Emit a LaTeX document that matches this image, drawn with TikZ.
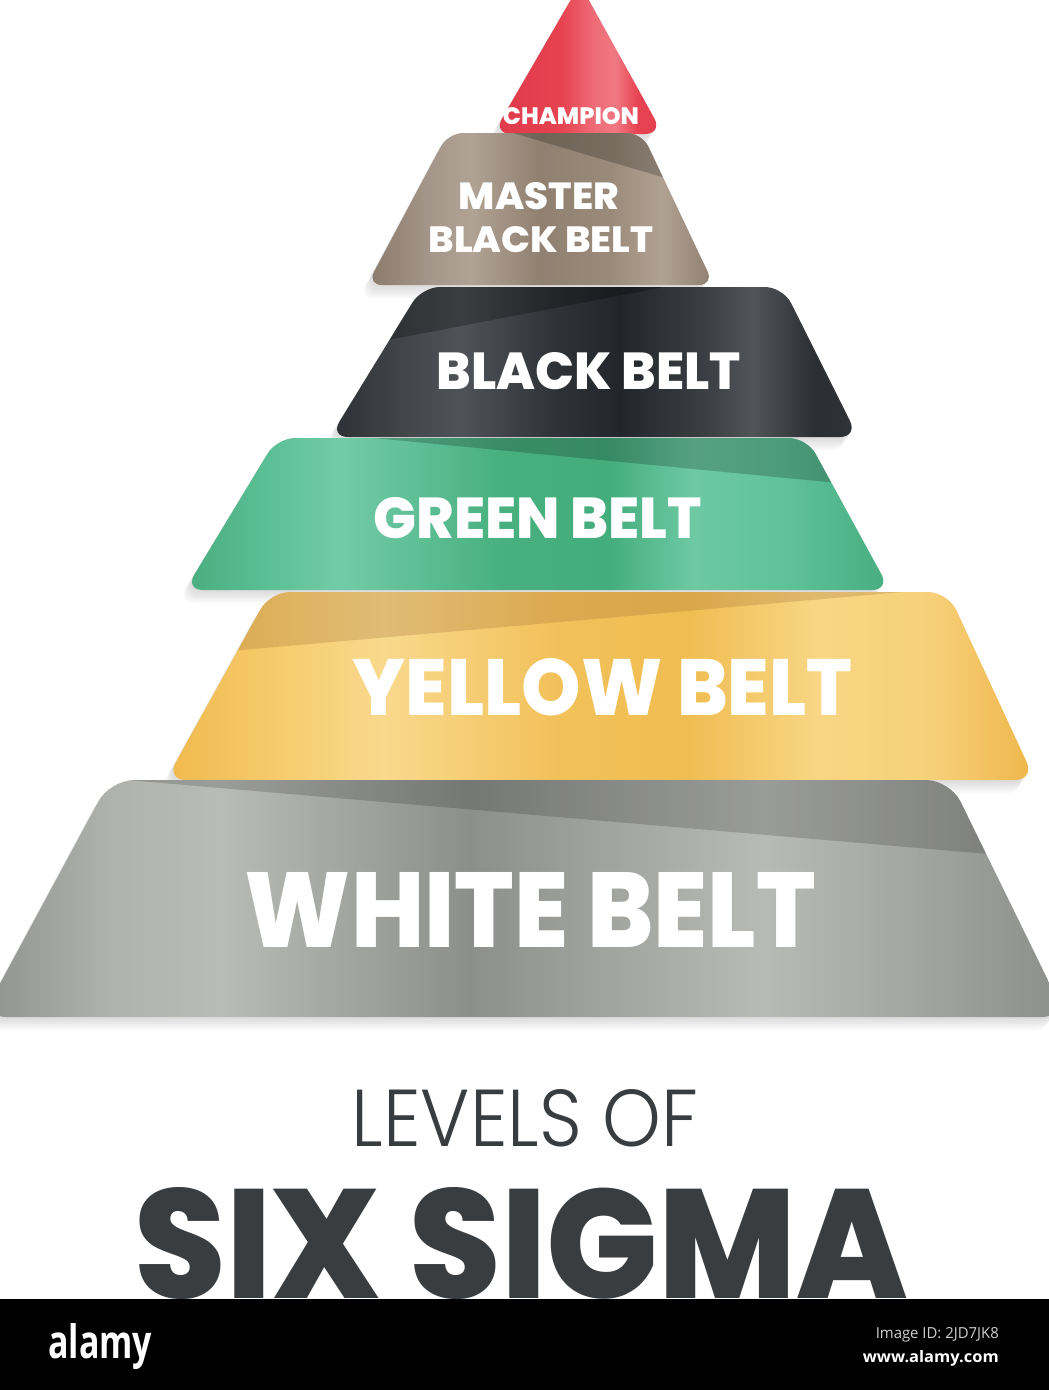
\documentclass[tikz,border=0pt]{standalone}
\usepackage{fontspec}
\setmainfont{Poppins}[BoldFont={Poppins ExtraBold}]
\newfontfamily\lightfont{Poppins Light}
\newfontfamily\alamyfont{Open Sans}
\usepackage{graphicx}
\usepackage{xcolor}
\definecolor{titlegray}{HTML}{3A3D40}
\definecolor{idgray}{HTML}{CFCFCF}
%% white belt (grey metal)
\definecolor{wb0}{HTML}{8F928E}
\definecolor{wb1}{HTML}{B0B2AE}
\definecolor{wb2}{HTML}{B9BBB7}
\definecolor{wb3}{HTML}{8C8F8B}
\definecolor{wb4}{HTML}{A2A4A0}
\definecolor{wb5}{HTML}{B8BAB6}
\definecolor{wb6}{HTML}{A0A29E}
\definecolor{wb7}{HTML}{8B8E8A}
%% yellow belt
\definecolor{yb0}{HTML}{F0B94C}
\definecolor{yb1}{HTML}{F6CD70}
\definecolor{yb2}{HTML}{F9D98D}
\definecolor{yb3}{HTML}{F2C15A}
\definecolor{yb4}{HTML}{F0BD52}
\definecolor{yb5}{HTML}{F8D684}
\definecolor{yb6}{HTML}{F7D07A}
\definecolor{yb7}{HTML}{EEB649}
%% green belt
\definecolor{gb0}{HTML}{49AD7F}
\definecolor{gb1}{HTML}{5CC096}
\definecolor{gb2}{HTML}{72CBA8}
\definecolor{gb3}{HTML}{48B07F}
\definecolor{gb4}{HTML}{44AD7C}
\definecolor{gb5}{HTML}{6DC9A3}
\definecolor{gb6}{HTML}{5FC29A}
\definecolor{gb7}{HTML}{47AE80}
%% black belt
\definecolor{kb0}{HTML}{2C2F33}
\definecolor{kb1}{HTML}{44484C}
\definecolor{kb2}{HTML}{4F5357}
\definecolor{kb3}{HTML}{303337}
\definecolor{kb4}{HTML}{22252A}
\definecolor{kb5}{HTML}{3D4145}
\definecolor{kb6}{HTML}{51555A}
\definecolor{kb7}{HTML}{2B2E32}
%% master black belt
\definecolor{mb0}{HTML}{8A7A6B}
\definecolor{mb1}{HTML}{A4968A}
\definecolor{mb2}{HTML}{B0A394}
\definecolor{mb3}{HTML}{908070}
\definecolor{mb4}{HTML}{9A8A7A}
\definecolor{mb5}{HTML}{B0A292}
\definecolor{mb6}{HTML}{8E7E6F}
%% champion
\definecolor{cp0}{HTML}{E03A4B}
\definecolor{cp1}{HTML}{E6424F}
\definecolor{cp2}{HTML}{EF6D78}
\definecolor{cp3}{HTML}{F07882}
\definecolor{cp4}{HTML}{E84352}
\definecolor{cp5}{HTML}{E23F4D}

\pgfdeclarehorizontalshading{whiteshade}{100bp}{color(0bp)=(wb0); color(25bp)=(wb0);
  color(31bp)=(wb1); color(36bp)=(wb2); color(47.5bp)=(wb3); color(54bp)=(wb4);
  color(61bp)=(wb5); color(69bp)=(wb6); color(75bp)=(wb7); color(100bp)=(wb7)}
\pgfdeclarehorizontalshading{yellowshade}{100bp}{color(0bp)=(yb0); color(25bp)=(yb0);
  color(32bp)=(yb1); color(37.5bp)=(yb2); color(47.5bp)=(yb3); color(55bp)=(yb4);
  color(62.5bp)=(yb5); color(69bp)=(yb6); color(75bp)=(yb7); color(100bp)=(yb7)}
\pgfdeclarehorizontalshading{greenshade}{100bp}{color(0bp)=(gb0); color(25bp)=(gb0);
  color(31bp)=(gb1); color(36bp)=(gb2); color(47.5bp)=(gb3); color(55bp)=(gb4);
  color(61bp)=(gb5); color(67.5bp)=(gb6); color(75bp)=(gb7); color(100bp)=(gb7)}
\pgfdeclarehorizontalshading{blackshade}{100bp}{color(0bp)=(kb0); color(25bp)=(kb0);
  color(32.5bp)=(kb1); color(37.5bp)=(kb2); color(46bp)=(kb3); color(52.5bp)=(kb4);
  color(61bp)=(kb5); color(65bp)=(kb6); color(71bp)=(kb7); color(75bp)=(kb3); color(100bp)=(kb3)}
\pgfdeclarehorizontalshading{mastershade}{100bp}{color(0bp)=(mb0); color(25bp)=(mb0);
  color(34bp)=(mb1); color(40bp)=(mb2); color(50bp)=(mb3); color(60bp)=(mb4);
  color(67.5bp)=(mb5); color(75bp)=(mb6); color(100bp)=(mb6)}
\pgfdeclarehorizontalshading{champshade}{100bp}{color(0bp)=(cp0); color(25bp)=(cp0);
  color(45bp)=(cp1); color(55bp)=(cp2); color(61bp)=(cp3); color(67.5bp)=(cp4);
  color(75bp)=(cp5); color(100bp)=(cp5)}

\newcommand{\fittext}[3]{\resizebox{#1pt}{#2pt}{#3}}
%% layer outlines, in pixels of the reference (y grows downwards)
\newcommand{\champpath}{(580,-16) -- (663,134) -- (493,134) -- cycle}
\newcommand{\masterpath}{(448,133) -- (642,133) -- (714,285) -- (367,285) -- cycle}
\newcommand{\blackpath}{(422,287) -- (783,287) -- (858,437) -- (330,437) -- cycle}
\newcommand{\greenpath}{(277,438) -- (807,438) -- (890,590) -- (185,590) -- cycle}
\newcommand{\yellowpath}{(270,592) -- (948,592) -- (1035,780) -- (166,780) -- cycle}
\newcommand{\whitepath}{(110,780) -- (950,780) -- (1066,1017) -- (-18,1017) -- cycle}
\newcommand{\softshadow}[2]{%
  \foreach \s in {1,...,6}{\fill[black, opacity=0.022, rounded corners=#2,
    shift={(-1.4*\s,2.2*\s)}] #1;}}

\tikzset{
  beltlbl/.style={text=white, inner sep=0pt, anchor=base, font=\bfseries},
  titlelbl/.style={text=titlegray, inner sep=0pt, anchor=base},
  sheen/.style={fill=black, opacity=#1},
}

\begin{document}
\begin{tikzpicture}[x=1pt, y=-1pt]
  \useasboundingbox (0,0) rectangle (1049,1390);
  \clip (0,0) rectangle (1049,1390);

  %% Champion
  \softshadow{\champpath}{18}
  \shade[shading=champshade, rounded corners=18] \champpath;
  \node[beltlbl] (champ) at (571,124) {\fittext{136}{17}{CHAMPION}};

  %% Master black belt
  \softshadow{\masterpath}{15}
  \shade[shading=mastershade, rounded corners=15] \masterpath;
  \begin{scope}
    \clip[rounded corners=15] \masterpath;
    \fill[sheen=.22] (513,133) -- (513,120) -- (740,120) -- (740,200) -- cycle;
  \end{scope}
  \node[beltlbl] (master1) at (539,209) {\fittext{160}{27}{MASTER}};
  \node[beltlbl] (master2) at (541,252) {\fittext{225}{26}{BLACK BELT}};

  %% Black belt
  \softshadow{\blackpath}{18}
  \shade[shading=blackshade, rounded corners=18] \blackpath;
  \begin{scope}
    \clip[rounded corners=18] \blackpath;
    \fill[sheen=.25] (310,355) -- (664,287) -- (664,275) -- (310,275) -- cycle;
  \end{scope}
  \node[beltlbl] (black) at (589,389) {\fittext{304}{37}{BLACK BELT}};

  %% Green belt
  \softshadow{\greenpath}{18}
  \shade[shading=greenshade, rounded corners=18] \greenpath;
  \begin{scope}
    \clip[rounded corners=18] \greenpath;
    \fill[sheen=.2] (374,438) -- (374,428) -- (910,428) -- (910,490) -- cycle;
  \end{scope}
  \node[beltlbl] (green) at (538,538) {\fittext{328}{41}{GREEN BELT}};

  %% Yellow belt
  \softshadow{\yellowpath}{20}
  \shade[shading=yellowshade, rounded corners=20] \yellowpath;
  \begin{scope}
    \clip[rounded corners=20] \yellowpath;
    \fill[brown!80!black, opacity=.25] (150,658) -- (960,587) -- (960,580) -- (150,580) -- cycle;
  \end{scope}
  \node[beltlbl] (yellow) at (602.5,715) {\fittext{499}{57}{YELLOW BELT}};

  %% White belt
  \softshadow{\whitepath}{24}
  \shade[shading=whiteshade, rounded corners=24] \whitepath;
  \begin{scope}
    \clip[rounded corners=24] \whitepath;
    \fill[sheen=.16] (127,780) -- (127,770) -- (1070,770) -- (1070,861) -- cycle;
  \end{scope}
  \node[beltlbl] (white) at (530.5,947) {\fittext{571}{75}{WHITE BELT}};

  %% Title
  \node[titlelbl, font=\lightfont] (levels) at (525,1146) {\fittext{346}{57}{LEVELS OF}};
  \node[titlelbl, font=\bfseries] (sixsigma) at (521.5,1298) {\fittext{773}{111}{SIX SIGMA}};

  %% Footer bar
  \fill[black] (0,1299) rectangle (1049,1390);
  \node[inner sep=0pt, anchor=base west, text=white, font=\alamyfont\bfseries]
    (logo) at (48,1358) {\fittext{104}{35}{alamy}};
  \node[inner sep=0pt, anchor=base east, text=idgray, font=\alamyfont]
    (imgid) at (999,1338) {\fittext{123}{11}{Image ID: 2JD7JK8}};
  \node[inner sep=0pt, anchor=base east, text=white, font=\alamyfont\bfseries]
    (url) at (999,1362) {\fittext{136}{12}{www.alamy.com}};
\end{tikzpicture}
\end{document}
